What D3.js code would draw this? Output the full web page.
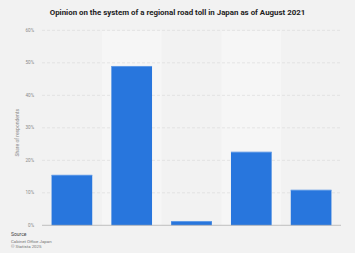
<!DOCTYPE html>
<html>
<head>
<meta charset="utf-8">
<script src="https://cdn.jsdelivr.net/npm/d3@7"></script>
<style>
  body { margin: 0; background: #f2f2f2; }
  svg { display: block; font-family: Roboto, "Noto Sans", sans-serif; }
</style>
</head>
<body>
<script>
// values (share of respondents, %)
const categories = ['A', 'B', 'C', 'D', 'E']
const shares = [15.5, 49.0, 1.3, 22.6, 10.9]
const yTicks = [0, 10, 20, 30, 40, 50, 60]
const sourceLines = ['Cabinet Office Japan', '\u00a9 Statista 2025']

const width = 355
const height = 253
const plot = { left: 42, right: 341, top: 30.3, bottom: 225.3 }

const svg = d3.select('body').append('svg')
  .attr('width', width)
  .attr('height', height)

svg.append('rect')
  .attr('width', width)
  .attr('height', height)
  .attr('fill', '#f2f2f2')

let x = d3.scaleBand()
  .domain(categories)
  .range([plot.left, plot.right])
  .paddingInner(0.32)
  .paddingOuter(0.16)

let y = d3.scaleLinear()
  .domain([0, 60])
  .range([plot.bottom, plot.top])

// lighter bands behind every second category
let step = x.step()
svg.append('g')
  .selectAll('rect')
  .data(categories.filter((_, i) => i % 2 === 1))
  .join('rect')
    .attr('x', d => x(d) - step * x.paddingInner() / 2)
    .attr('y', plot.top)
    .attr('width', step)
    .attr('height', plot.bottom - plot.top)
    .attr('fill', '#f6f6f6')

// grid lines
svg.append('g')
  .selectAll('line')
  .data(yTicks.filter(t => t > 0))
  .join('line')
    .attr('x1', plot.left)
    .attr('x2', plot.right)
    .attr('y1', d => y(d))
    .attr('y2', d => y(d))
    .attr('stroke', '#d6d6d6')
    .attr('stroke-width', 0.6)
    .attr('stroke-dasharray', '3,2')

// tick labels
svg.append('g')
  .selectAll('text')
  .data(yTicks)
  .join('text')
    .attr('x', 34)
    .attr('y', d => y(d))
    .attr('dy', '0.35em')
    .attr('text-anchor', 'end')
    .attr('font-size', 4.6)
    .attr('fill', '#8a8a8a')
    .text(d => `${d}%`)

// bars
svg.append('g')
  .selectAll('rect')
  .data(shares)
  .join('rect')
    .attr('x', (d, i) => x(categories[i]))
    .attr('y', d => y(d))
    .attr('width', x.bandwidth())
    .attr('height', d => plot.bottom - y(d))
    .attr('fill', '#2876dd')

// thin light edge on top of each bar
svg.append('g')
  .selectAll('line')
  .data(shares)
  .join('line')
    .attr('x1', (d, i) => x(categories[i]))
    .attr('x2', (d, i) => x(categories[i]) + x.bandwidth())
    .attr('y1', d => y(d) + 0.4)
    .attr('y2', d => y(d) + 0.4)
    .attr('stroke', '#6fa3e8')
    .attr('stroke-width', 0.8)

// baseline
svg.append('line')
  .attr('x1', plot.left)
  .attr('x2', plot.right)
  .attr('y1', plot.bottom)
  .attr('y2', plot.bottom)
  .attr('stroke', '#b3b3b3')
  .attr('stroke-width', 0.8)

// y axis title
svg.append('text')
  .attr('transform', `translate(19,${(plot.top + plot.bottom) / 2 + 5}) rotate(-90)`)
  .attr('text-anchor', 'middle')
  .attr('font-size', 5)
  .attr('fill', '#8a8a8a')
  .text('Share of respondents')

// title
svg.append('text')
  .attr('x', width / 2)
  .attr('y', 15)
  .attr('text-anchor', 'middle')
  .attr('font-size', 7.9)
  .attr('font-weight', 'bold')
  .attr('fill', '#222')
  .text('Opinion on the system of a regional road toll in Japan as of August 2021')

// source footer
svg.append('text')
  .attr('x', 11)
  .attr('y', 236)
  .attr('font-size', 5)
  .attr('fill', '#444')
  .text('Source')

svg.append('g')
  .selectAll('text')
  .data(sourceLines)
  .join('text')
    .attr('x', 11)
    .attr('y', (d, i) => 242.5 + i * 5.8)
    .attr('font-size', 4.4)
    .attr('fill', '#777')
    .text(d => d)
</script>
</body>
</html>
